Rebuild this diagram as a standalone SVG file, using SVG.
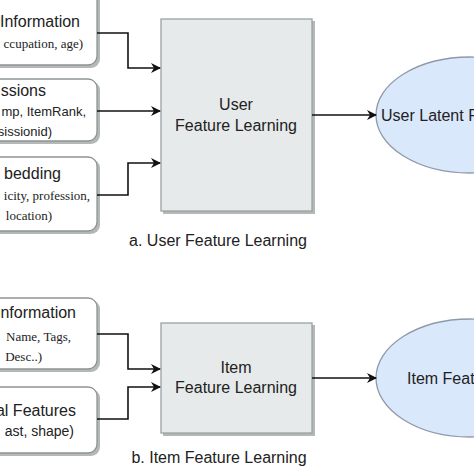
<svg xmlns="http://www.w3.org/2000/svg" width="474" height="474" viewBox="0 0 474 474">
<defs>
<marker id="arr" markerWidth="10" markerHeight="10" refX="9" refY="5" orient="auto" markerUnits="userSpaceOnUse">
<path d="M0,0 L10,5 L0,10 L3,5 Z" fill="#111"/>
</marker>
<style>
.in rect.b{fill:#fff;stroke:#8e9494;stroke-width:1.3}
.sh{fill:#b4b8b8}
.main rect.b{fill:#e6eaea;stroke:#9aa2a2;stroke-width:1.3}
.ell{fill:#dae8fc;stroke:#8f9aa8;stroke-width:1.3}
.sans{font-family:"Liberation Sans",Arial,sans-serif;fill:#222}
.serif{font-family:"Liberation Serif","Times New Roman",serif;fill:#222}
.con path{fill:none;stroke:#111;stroke-width:1.6;marker-end:url(#arr)}
</style>
</defs>
<rect width="474" height="474" fill="#fff"/>

<g id="in-user-info" class="in">
<rect class="sh" x="-20" y="-8" width="120" height="76" rx="9"/>
<rect class="b" x="-22" y="-10" width="119" height="75" rx="9"/>
<text class="sans" x="80" y="27" font-size="16" text-anchor="end">Information</text>
<text class="serif" x="83" y="48" font-size="13" text-anchor="end">ccupation, age)</text>
</g>
<g id="in-sessions" class="in">
<rect class="sh" x="-20" y="81" width="120" height="63" rx="9"/>
<rect class="b" x="-22" y="79" width="119" height="62" rx="9"/>
<text class="sans" x="46" y="96" font-size="16" text-anchor="end">ssions</text>
<text class="sans" x="86" y="116" font-size="13" text-anchor="end">mp, ItemRank,</text>
<text class="sans" x="52" y="136" font-size="13" text-anchor="end">sissionid)</text>
</g>
<g id="in-embedding" class="in">
<rect class="sh" x="-20" y="159" width="120" height="75" rx="9"/>
<rect class="b" x="-22" y="157" width="119" height="74" rx="9"/>
<text class="sans" x="61" y="179" font-size="16" text-anchor="end">bedding</text>
<text class="serif" x="90" y="200" font-size="13" text-anchor="end">icity, profession,</text>
<text class="serif" x="52" y="220" font-size="13" text-anchor="end">location)</text>
</g>

<g id="user-fl" class="main">
<rect class="sh" x="163" y="21" width="152" height="193"/>
<rect class="b" x="161" y="19" width="151" height="192"/>
<text class="sans" x="236" y="110" font-size="16" text-anchor="middle">User</text>
<text class="sans" x="236" y="131" font-size="16" text-anchor="middle">Feature Learning</text>
</g>

<g id="user-latent">
<ellipse class="ell" cx="470" cy="115" rx="94" ry="58"/>
<text class="sans" x="381" y="121" font-size="16" fill="#1c2433">User Latent F</text>
</g>

<text id="cap-a" class="sans" x="218" y="246" font-size="16" text-anchor="middle">a. User Feature Learning</text>

<g id="in-item-info" class="in">
<rect class="sh" x="-20" y="300" width="120" height="72" rx="9"/>
<rect class="b" x="-22" y="298" width="119" height="71" rx="9"/>
<text class="sans" x="76" y="318" font-size="16" text-anchor="end">nformation</text>
<text class="serif" x="71" y="341" font-size="13" text-anchor="end">Name, Tags,</text>
<text class="serif" x="42" y="361" font-size="13" text-anchor="end">Desc..)</text>
</g>
<g id="in-visual" class="in">
<rect class="sh" x="-20" y="389" width="120" height="67" rx="9"/>
<rect class="b" x="-22" y="387" width="119" height="66" rx="9"/>
<text class="sans" x="76" y="416" font-size="16" text-anchor="end">al Features</text>
<text class="sans" x="74" y="436" font-size="14" text-anchor="end">ast, shape)</text>
</g>

<g id="item-fl" class="main">
<rect class="sh" x="163" y="325" width="152" height="111"/>
<rect class="b" x="161" y="323" width="151" height="110"/>
<text class="sans" x="236" y="373" font-size="16" text-anchor="middle">Item</text>
<text class="sans" x="236" y="393" font-size="16" text-anchor="middle">Feature Learning</text>
</g>

<g id="item-latent">
<ellipse class="ell" cx="470" cy="378" rx="94" ry="59"/>
<text class="sans" x="407" y="384" font-size="16" fill="#1c2433">Item Featu</text>
</g>

<text id="cap-b" class="sans" x="219" y="463" font-size="16" text-anchor="middle">b. Item Feature Learning</text>

<g id="connectors" class="con">
<path d="M97,33 H128 V68 H160"/>
<path d="M97,111 H160"/>
<path d="M97,195 H128 V163 H160"/>
<path d="M312,115 H376"/>
<path d="M97,334 H128 V369 H160"/>
<path d="M97,419 H128 V387 H160"/>
<path d="M312,378 H376"/>
</g>
</svg>
